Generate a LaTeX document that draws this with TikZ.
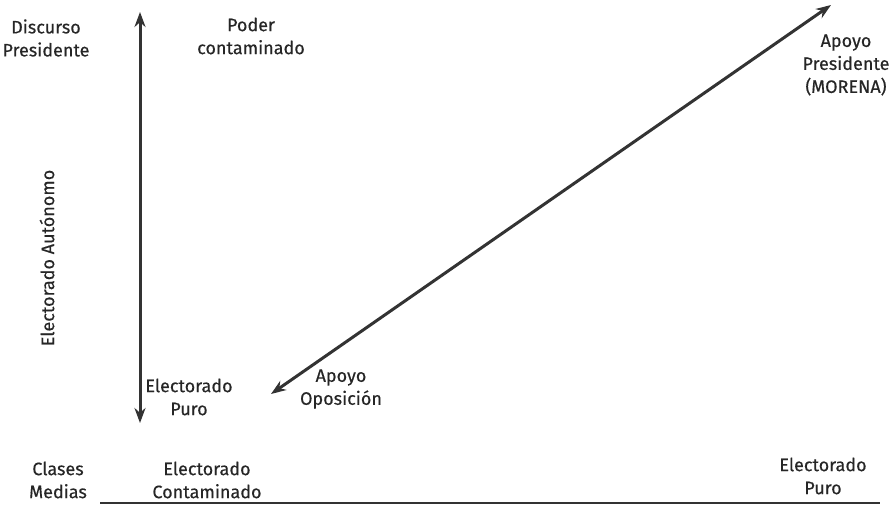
\documentclass[tikz,border=0pt]{standalone}
\usepackage{fontspec}
\setmainfont[FakeBold=0.4,BoldFont={Fira Sans}]{Fira Sans}
\usetikzlibrary{arrows.meta}
\begin{document}
\begin{tikzpicture}[x=1pt,y=-1pt,
  lbl/.style={align=center,font=\fontsize{18}{23}\selectfont\bfseries,text=black!85,inner sep=0pt},
  axis/.style={line width=3pt,draw=black!80,{Stealth[length=15pt,width=11pt]}-{Stealth[length=15pt,width=11pt]}}]
\useasboundingbox (0,0) rectangle (892,512);
\node[lbl] (dp) at (46,38) {Discurso\\Presidente};
\node[lbl] (pc) at (251,36) {Poder\\contaminado};
\node[lbl,rotate=90] (ea) at (47,258) {Electorado Autónomo};
\node[lbl] (ep) at (189,397) {Electorado\\Puro};
\node[lbl] (ao) at (341,389) {Apoyo\\Oposición};
\node[lbl] (apm) at (846,65) {Apoyo\\Presidente\\(MORENA)};
\node[lbl] (cm) at (58,480) {Clases\\Medias};
\node[lbl] (ec) at (207,480) {Electorado\\Contaminado};
\node[lbl] (ep2) at (823,476) {Electorado\\Puro};
\coordinate (vt) at (140,12);
\coordinate (vb) at (140,423);
\coordinate (dl) at (271,394);
\coordinate (dr) at (831,5);
\coordinate (bl) at (100,503);
\coordinate (br) at (880,503);
\draw[axis] (vt) -- (vb);
\draw[axis] (dl) -- (dr);
\draw[line width=1.6pt,draw=black!80] (bl) -- (br);
\end{tikzpicture}
\end{document}
